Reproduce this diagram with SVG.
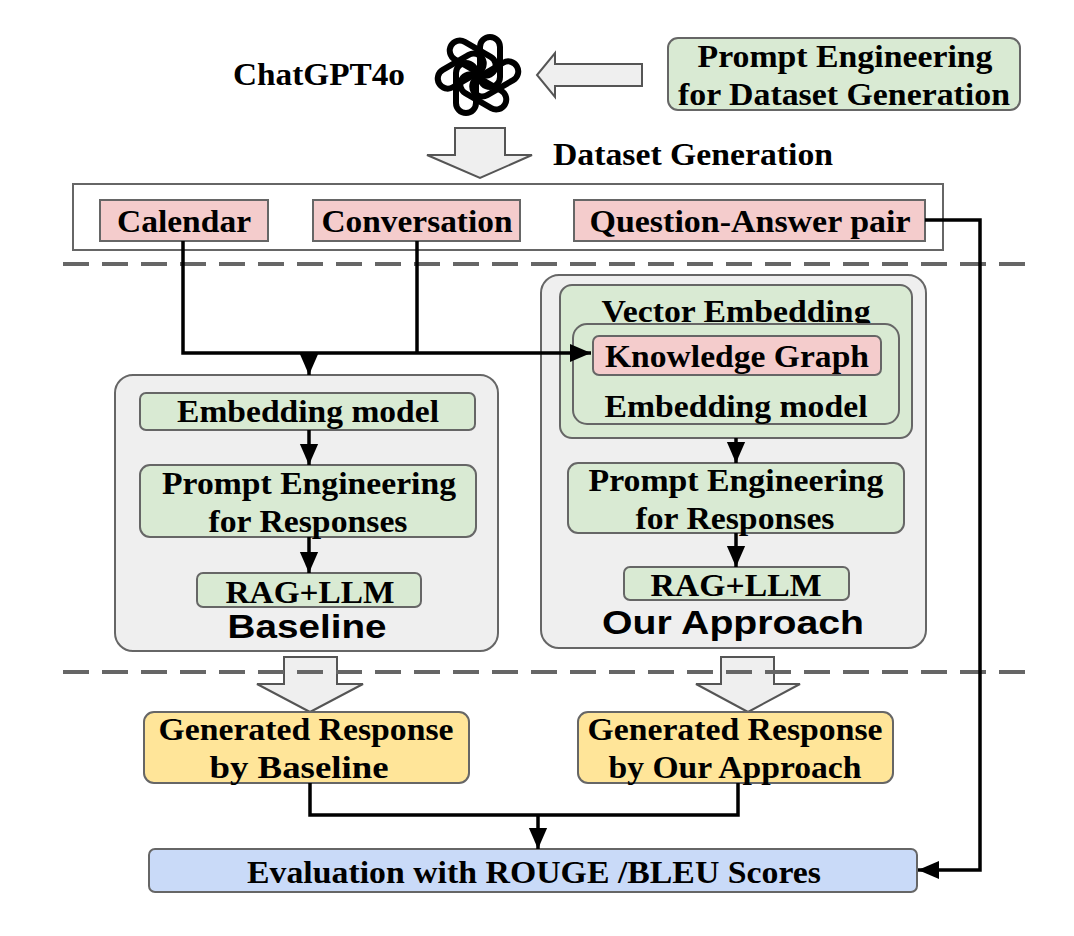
<svg xmlns="http://www.w3.org/2000/svg" width="1074" height="936" viewBox="0 0 1074 936">
<style>
.t{font-family:"Liberation Serif","Times New Roman",serif;font-weight:bold;font-size:31px;fill:#000;text-anchor:middle}
.a{font-family:"Liberation Sans",Arial,sans-serif;font-weight:bold;font-size:33px;fill:#000;text-anchor:middle}
.g{fill:#d9ead3;stroke:#666;stroke-width:2}
.p{fill:#f4cccc;stroke:#666;stroke-width:2}
.c{fill:#efefef;stroke:#666;stroke-width:2}
.y{fill:#ffe599;stroke:#666;stroke-width:2}
.b{fill:#c9daf8;stroke:#666;stroke-width:2}
.h{fill:#efefef;stroke:#555;stroke-width:2}
.l{fill:none;stroke:#000;stroke-width:3.5}
.d{fill:none;stroke:#666;stroke-width:4;stroke-dasharray:26 13}
</style>
<defs>
<marker id="ar" markerWidth="7" markerHeight="6" refX="6" refY="3" orient="auto" markerUnits="strokeWidth"><path d="M0,0.4 L6,3 L0,5.6 Z" fill="#000"/></marker>
</defs>
<g id="chatgpt">
<text class="t" x="319" y="85" textLength="172" lengthAdjust="spacingAndGlyphs">ChatGPT4o</text>
<g transform="translate(478,75)" fill="none" stroke="#000" stroke-width="6">
<rect x="2" y="-38" width="20" height="50" rx="10" transform="rotate(0)"/>
<rect x="2" y="-38" width="20" height="50" rx="10" transform="rotate(60)"/>
<rect x="2" y="-38" width="20" height="50" rx="10" transform="rotate(120)"/>
<rect x="2" y="-38" width="20" height="50" rx="10" transform="rotate(180)"/>
<rect x="2" y="-38" width="20" height="50" rx="10" transform="rotate(240)"/>
<rect x="2" y="-38" width="20" height="50" rx="10" transform="rotate(300)"/>
</g>
</g>
<g id="hollow-arrows">
<path class="h" d="M642,64 L555,64 L555,53 L537,75 L555,97 L555,86 L642,86 Z"/>
<path class="h" d="M455,128 L505,128 L505,155 L532,155 L480,178 L427,155 L455,155 Z"/>
<path class="h" d="M284,657 L337,657 L337,684 L363,684 L310,712 L257,684 L284,684 Z"/>
<path class="h" d="M721,657 L774,657 L774,684 L800,684 L748,712 L696,684 L721,684 Z"/>
</g>
<g id="prompt-dataset">
<rect class="g" x="668" y="38" width="352" height="72" rx="10"/>
<text class="t" x="845" y="67" textLength="295" lengthAdjust="spacingAndGlyphs">Prompt Engineering</text>
<text class="t" x="844" y="105" textLength="332" lengthAdjust="spacingAndGlyphs">for Dataset Generation</text>
</g>
<text class="t" x="693" y="165" textLength="280" lengthAdjust="spacingAndGlyphs">Dataset Generation</text>
<g id="dataset">
<rect x="73" y="184" width="870" height="66" fill="#fff" stroke="#666" stroke-width="2"/>
</g>
<g id="calendar"><rect class="p" x="100" y="200" width="168" height="41"/><text class="t" x="184" y="232" textLength="134" lengthAdjust="spacingAndGlyphs">Calendar</text></g>
<g id="conversation"><rect class="p" x="313" y="200" width="207" height="41"/><text class="t" x="417" y="232" textLength="191" lengthAdjust="spacingAndGlyphs">Conversation</text></g>
<g id="qa"><rect class="p" x="574" y="200" width="351" height="41"/><text class="t" x="750" y="232" textLength="321" lengthAdjust="spacingAndGlyphs">Question-Answer pair</text></g>
<line class="d" x1="63" y1="264" x2="1025" y2="264"/>
<line class="d" x1="63" y1="672" x2="1025" y2="672"/>
<g id="baseline">
<rect class="c" x="115" y="375" width="383" height="276" rx="18"/>
<rect class="g" x="140" y="393" width="335" height="37" rx="6"/>
<text class="t" x="308" y="422" textLength="262" lengthAdjust="spacingAndGlyphs">Embedding model</text>
<rect class="g" x="140" y="465" width="336" height="72" rx="10"/>
<text class="t" x="309" y="494" textLength="294" lengthAdjust="spacingAndGlyphs">Prompt Engineering</text>
<text class="t" x="308" y="532" textLength="199" lengthAdjust="spacingAndGlyphs">for Responses</text>
<rect class="g" x="197" y="573" width="224" height="34" rx="6"/>
<text class="t" x="310" y="603" textLength="169" lengthAdjust="spacingAndGlyphs">RAG+LLM</text>
<text class="a" x="307" y="638" textLength="159" lengthAdjust="spacingAndGlyphs">Baseline</text>
</g>
<g id="our-approach">
<rect class="c" x="541" y="275" width="385" height="373" rx="18"/>
<rect class="g" x="560" y="285" width="352" height="153" rx="12"/>
<text class="t" x="736" y="322" textLength="269" lengthAdjust="spacingAndGlyphs">Vector Embedding</text>
<rect class="g" x="573" y="324" width="326" height="100" rx="14"/>
<rect class="p" x="593" y="336" width="288" height="39" rx="6"/>
<text class="t" x="737" y="367" textLength="264" lengthAdjust="spacingAndGlyphs">Knowledge Graph</text>
<text class="t" x="736" y="417" textLength="263" lengthAdjust="spacingAndGlyphs">Embedding model</text>
<rect class="g" x="568" y="463" width="336" height="70" rx="10"/>
<text class="t" x="736" y="491" textLength="295" lengthAdjust="spacingAndGlyphs">Prompt Engineering</text>
<text class="t" x="735" y="529" textLength="199" lengthAdjust="spacingAndGlyphs">for Responses</text>
<rect class="g" x="624" y="567" width="225" height="33" rx="6"/>
<text class="t" x="736" y="596" textLength="171" lengthAdjust="spacingAndGlyphs">RAG+LLM</text>
<text class="a" x="733" y="634" textLength="262" lengthAdjust="spacingAndGlyphs">Our Approach</text>
</g>
<g id="gen-baseline">
<rect class="y" x="144" y="712" width="325" height="71" rx="10"/>
<text class="t" x="306" y="740" textLength="295" lengthAdjust="spacingAndGlyphs">Generated Response</text>
<text class="t" x="299" y="778" textLength="179" lengthAdjust="spacingAndGlyphs">by Baseline</text>
</g>
<g id="gen-ours">
<rect class="y" x="578" y="712" width="315" height="71" rx="10"/>
<text class="t" x="735" y="740" textLength="295" lengthAdjust="spacingAndGlyphs">Generated Response</text>
<text class="t" x="735" y="778" textLength="253" lengthAdjust="spacingAndGlyphs">by Our Approach</text>
</g>
<g id="evaluation">
<rect class="b" x="149" y="849" width="768" height="43" rx="6"/>
<text class="t" x="534" y="883" textLength="574" lengthAdjust="spacingAndGlyphs">Evaluation with ROUGE /BLEU Scores</text>
</g>
<g id="connectors">
<polyline class="l" points="183,241 183,353 591,353" marker-end="url(#ar)"/>
<line class="l" x1="417" y1="241" x2="417" y2="353"/>
<line class="l" x1="309" y1="353" x2="309" y2="375" marker-end="url(#ar)"/>
<line class="l" x1="309" y1="430" x2="309" y2="465" marker-end="url(#ar)"/>
<line class="l" x1="309" y1="537" x2="309" y2="573" marker-end="url(#ar)"/>
<line class="l" x1="736" y1="438" x2="736" y2="463" marker-end="url(#ar)"/>
<line class="l" x1="736" y1="533" x2="736" y2="567" marker-end="url(#ar)"/>
<polyline class="l" points="310,783 310,815 738,815 738,783"/>
<line class="l" x1="538" y1="815" x2="538" y2="849" marker-end="url(#ar)"/>
<polyline class="l" points="925,220 980,220 980,870 918,870" marker-end="url(#ar)"/>
</g>
</svg>
